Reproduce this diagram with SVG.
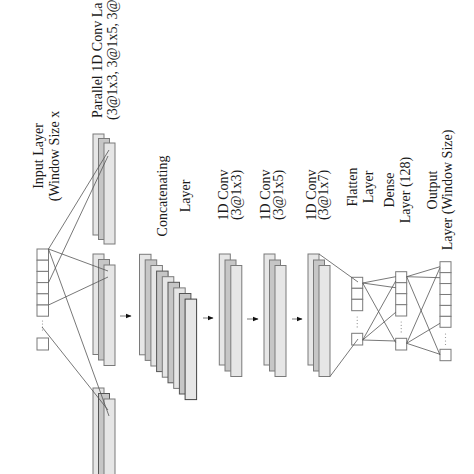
<svg xmlns="http://www.w3.org/2000/svg" width="474" height="474" viewBox="0 0 474 474">
<defs>
<style>
.l{fill:#e6e6e6;stroke:#7a7a7a;stroke-width:1}
.d{fill:#c6c6c6;stroke:#7a7a7a;stroke-width:1}
.k{fill:#c6c6c6;stroke:#555;stroke-width:1}
.b{fill:#fff;stroke:#7a7a7a;stroke-width:1}
.t{font-family:"Liberation Serif","Times New Roman",serif;font-size:14px;fill:#1a1a1a}
.c{stroke:#555;stroke-width:0.8;fill:none}
.dot{fill:#888}
</style>
<marker id="ah" viewBox="0 0 10 10" refX="9" refY="5" markerWidth="6" markerHeight="6" orient="auto" markerUnits="userSpaceOnUse">
<path d="M0,1 L10,5 L0,9 z" fill="#111"/>
</marker>
</defs>
<rect width="474" height="474" fill="#fff"/>

<g id="input-layer">
<rect class="b" x="37" y="249" width="11.5" height="11.2"/>
<rect class="b" x="37" y="260.2" width="11.5" height="11.2"/>
<rect class="b" x="37" y="271.4" width="11.5" height="11.2"/>
<rect class="b" x="37" y="282.6" width="11.5" height="11.2"/>
<rect class="b" x="37" y="293.8" width="11.5" height="11.2"/>
<rect class="b" x="37" y="305" width="11.5" height="11.2"/>
<circle class="dot" cx="42.5" cy="321" r="0.6"/>
<circle class="dot" cx="42.5" cy="324" r="0.6"/>
<circle class="dot" cx="42.5" cy="327" r="0.6"/>
<circle class="dot" cx="42.5" cy="330" r="0.6"/>
<rect class="b" x="37" y="338" width="11.5" height="12"/>
<text class="t" text-anchor="middle" transform="translate(43,156) rotate(-90)">Input Layer</text>
<text class="t" text-anchor="middle" transform="translate(59,156) rotate(-90)">(Window Size x</text>
</g>

<g id="parallel-conv-1">
<rect class="l" x="93" y="134" width="11" height="101"/>
<rect class="d" x="98.5" y="138.5" width="11" height="101"/>
<rect class="l" x="104" y="143" width="11" height="101"/>
</g>
<g id="parallel-conv-2">
<rect class="l" x="93" y="254" width="11" height="100.5"/>
<rect class="d" x="98.5" y="259.5" width="11" height="100.5"/>
<rect class="l" x="104" y="265" width="11" height="100.5"/>
</g>
<g id="parallel-conv-3">
<rect class="l" x="93" y="388" width="11" height="100"/>
<rect class="k" x="98.5" y="393.5" width="11" height="100"/>
<rect class="l" x="104" y="399" width="11" height="100"/>
</g>
<g id="parallel-label">
<text class="t" transform="translate(102,118) rotate(-90)">Parallel 1D Conv La</text>
<text class="t" transform="translate(117,120) rotate(-90)">(3@1x3, 3@1x5, 3@</text>
</g>

<g id="concatenating-layer">
<rect class="l" x="139.5" y="254.3" width="11.5" height="100.5"/>
<rect class="d" x="145.2" y="259.9" width="11.5" height="100.5"/>
<rect class="l" x="150.9" y="265.5" width="11.5" height="100.5"/>
<rect class="k" x="156.6" y="271.1" width="11.5" height="100.5"/>
<rect class="l" x="162.3" y="276.7" width="11.5" height="100.5"/>
<rect class="k" x="168" y="282.3" width="11.5" height="100.5"/>
<rect class="l" x="173.7" y="287.9" width="11.5" height="100.5"/>
<rect class="k" x="179.4" y="293.5" width="11.5" height="100.5"/>
<rect class="l" x="185.1" y="299.1" width="11.5" height="100.5" style="stroke:#444"/>
<text class="t" text-anchor="middle" transform="translate(167,196) rotate(-90)">Concatenating</text>
<text class="t" text-anchor="middle" transform="translate(190,196) rotate(-90)">Layer</text>
</g>

<g id="conv-1x3">
<rect class="l" x="219.3" y="254" width="11" height="111"/>
<rect class="d" x="225" y="260" width="11" height="111"/>
<rect class="l" x="230.8" y="265.5" width="11" height="111"/>
<text class="t" text-anchor="middle" transform="translate(228,195) rotate(-90)">1D Conv</text>
<text class="t" text-anchor="middle" transform="translate(241,195) rotate(-90)">(3@1x3)</text>
</g>

<g id="conv-1x5">
<rect class="l" x="264" y="254" width="11" height="111"/>
<rect class="d" x="269.5" y="260" width="11" height="111"/>
<rect class="l" x="275" y="265.5" width="11" height="111"/>
<text class="t" text-anchor="middle" transform="translate(270,195) rotate(-90)">1D Conv</text>
<text class="t" text-anchor="middle" transform="translate(283,195) rotate(-90)">(3@1x5)</text>
</g>

<g id="conv-1x7">
<rect class="l" x="308" y="254" width="11" height="111"/>
<rect class="d" x="313.5" y="260" width="11" height="111"/>
<rect class="l" x="319" y="265.5" width="11" height="111"/>
<text class="t" text-anchor="middle" transform="translate(316,195) rotate(-90)">1D Conv</text>
<text class="t" text-anchor="middle" transform="translate(328,195) rotate(-90)">(3@1x7)</text>
</g>

<g id="flatten-layer">
<rect class="b" x="351.7" y="277.3" width="11" height="11"/>
<rect class="b" x="351.7" y="288.3" width="11" height="11"/>
<rect class="b" x="351.7" y="299.3" width="11" height="11.4"/>
<circle class="dot" cx="357.2" cy="317" r="0.6"/>
<circle class="dot" cx="357.2" cy="320.3" r="0.6"/>
<circle class="dot" cx="357.2" cy="323.6" r="0.6"/>
<circle class="dot" cx="357.2" cy="326.9" r="0.6"/>
<rect class="b" x="351.7" y="333.3" width="11" height="11.7"/>
<text class="t" text-anchor="middle" transform="translate(357,187) rotate(-90)">Flatten</text>
<text class="t" text-anchor="middle" transform="translate(373,187) rotate(-90)">Layer</text>
</g>

<g id="dense-layer">
<rect class="b" x="395.7" y="271.7" width="11" height="11"/>
<rect class="b" x="395.7" y="282.7" width="11" height="11"/>
<rect class="b" x="395.7" y="293.7" width="11" height="11"/>
<rect class="b" x="395.7" y="304.7" width="11" height="11.3"/>
<circle class="dot" cx="401.2" cy="322" r="0.6"/>
<circle class="dot" cx="401.2" cy="325.3" r="0.6"/>
<circle class="dot" cx="401.2" cy="328.6" r="0.6"/>
<circle class="dot" cx="401.2" cy="331.9" r="0.6"/>
<rect class="b" x="395.7" y="338.3" width="11" height="11.7"/>
<text class="t" text-anchor="middle" transform="translate(394,190) rotate(-90)">Dense</text>
<text class="t" text-anchor="middle" transform="translate(410,190) rotate(-90)">Layer (128)</text>
</g>

<g id="output-layer">
<rect class="b" x="440" y="261.7" width="11" height="10.93"/>
<rect class="b" x="440" y="272.63" width="11" height="10.93"/>
<rect class="b" x="440" y="283.56" width="11" height="10.93"/>
<rect class="b" x="440" y="294.49" width="11" height="10.93"/>
<rect class="b" x="440" y="305.42" width="11" height="10.93"/>
<rect class="b" x="440" y="316.35" width="11" height="10.95"/>
<circle class="dot" cx="445.5" cy="334" r="0.6"/>
<circle class="dot" cx="445.5" cy="337.5" r="0.6"/>
<circle class="dot" cx="445.5" cy="341" r="0.6"/>
<circle class="dot" cx="445.5" cy="344.5" r="0.6"/>
<rect class="b" x="440" y="349.3" width="11" height="11.4"/>
<text class="t" text-anchor="middle" transform="translate(437,190) rotate(-90)">Output</text>
<text class="t" text-anchor="middle" transform="translate(452,190) rotate(-90)">Layer (Window Size)</text>
</g>

<g id="connectors">
<line class="c" x1="48.5" y1="249" x2="109" y2="150"/>
<line class="c" x1="48.5" y1="282.6" x2="108" y2="156"/>
<line class="c" x1="48.5" y1="249" x2="108" y2="271"/>
<line class="c" x1="48.5" y1="305" x2="108" y2="277"/>
<line class="c" x1="48.5" y1="249" x2="109" y2="416"/>
<line class="c" x1="42" y1="327" x2="108" y2="410"/>
<line class="c" x1="120" y1="316" x2="131" y2="316" marker-end="url(#ah)"/>
<line class="c" x1="203" y1="318" x2="213" y2="318" marker-end="url(#ah)"/>
<line class="c" x1="247" y1="319" x2="258" y2="319" marker-end="url(#ah)"/>
<line class="c" x1="292" y1="319" x2="302" y2="319" marker-end="url(#ah)"/>
<line class="c" x1="319" y1="254" x2="358" y2="282"/>
<line class="c" x1="330" y1="376.5" x2="358" y2="339"/>
<line class="c" x1="362.7" y1="283" x2="395.7" y2="276.7"/>
<line class="c" x1="362.7" y1="283" x2="395.7" y2="287.7"/>
<line class="c" x1="362.7" y1="283" x2="395.7" y2="342.5"/>
<line class="c" x1="362.7" y1="340" x2="395.7" y2="281"/>
<line class="c" x1="362.7" y1="340" x2="395.7" y2="312.3"/>
<line class="c" x1="362.7" y1="340" x2="395.7" y2="341"/>
<line class="c" x1="406.7" y1="276.7" x2="440" y2="266.7"/>
<line class="c" x1="406.7" y1="276.7" x2="440" y2="277.7"/>
<line class="c" x1="406.7" y1="276.7" x2="440" y2="355"/>
<line class="c" x1="406.7" y1="343.3" x2="440" y2="267.7"/>
<line class="c" x1="406.7" y1="343.3" x2="440" y2="323.3"/>
<line class="c" x1="406.7" y1="343.3" x2="440" y2="354.3"/>
</g>
</svg>
